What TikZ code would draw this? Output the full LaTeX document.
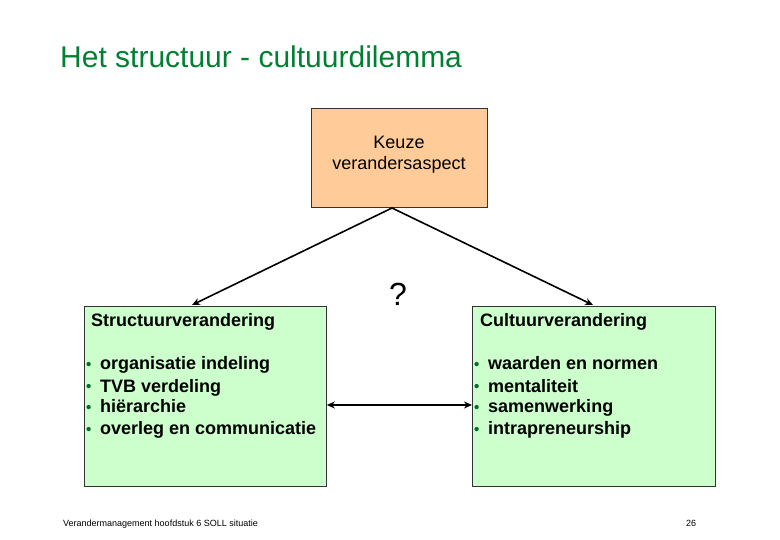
\documentclass[tikz,border=0pt]{standalone}
\usepackage{fontspec}
\setmainfont{Liberation Sans}
\usetikzlibrary{arrows.meta}
\definecolor{titlegreen}{RGB}{0,128,50}
\definecolor{peach}{RGB}{255,204,153}
\definecolor{lightgreen}{RGB}{204,255,204}
\definecolor{bulgreen}{RGB}{0,110,40}
\newcommand{\bul}{\makebox[14pt][l]{\textcolor{bulgreen}{\raisebox{0.5pt}{\fontsize{15}{15}\selectfont •}}}}
\begin{document}
\begin{tikzpicture}[x=1pt,y=-1pt,
  box/.style={draw=black!80,line width=0.8pt},
  bodytxt/.style={anchor=base west,inner sep=0pt,font=\fontsize{18}{21}\selectfont\bfseries},
  conn/.style={line width=1.6pt,-{Stealth[length=8pt,width=7pt]}},
  foot/.style={anchor=base west,inner sep=0pt,font=\fontsize{9}{10}\selectfont}]
\useasboundingbox (0,0) rectangle (780,540);
\fill[white] (0,0) rectangle (780,540);
% title
\node[anchor=base west,inner sep=0pt,text=titlegreen,font=\fontsize{30}{34}\selectfont] (title) at (60,68) {Het structuur - cultuurdilemma};
% boxes
\node[box,fill=peach,minimum width=176pt,minimum height=99pt,anchor=north west,inner sep=0pt] (top) at (311,108) {};
\node[inner sep=0pt,align=center,font=\fontsize{18}{21}\selectfont] (toptxt) at (399,155) {Keuze\\verandersaspect};
\node[box,fill=lightgreen,minimum width=242pt,minimum height=180pt,anchor=north west,inner sep=0pt] (left) at (84,306) {};
\node[box,fill=lightgreen,minimum width=243pt,minimum height=180pt,anchor=north west,inner sep=0pt] (right) at (472,306) {};
% left text
\node[bodytxt] (lh) at (91,327) {Structuurverandering};
\node[bodytxt] (l1) at (86,370) {\bul organisatie indeling};
\node[bodytxt] (l2) at (86,392) {\bul TVB verdeling};
\node[bodytxt] (l3) at (86,413) {\bul hiërarchie};
\node[bodytxt] (l4) at (86,435) {\bul overleg en communicatie};
% right text
\node[bodytxt] (rh) at (480,327) {Cultuurverandering};
\node[bodytxt] (r1) at (474,370) {\bul waarden en normen};
\node[bodytxt] (r2) at (474,392) {\bul mentaliteit};
\node[bodytxt] (r3) at (474,413) {\bul samenwerking};
\node[bodytxt] (r4) at (474,435) {\bul intrapreneurship};
% question mark
\node[inner sep=0pt,font=\fontsize{32}{36}\selectfont] (q) at (398,294) {?};
% connectors
\coordinate (apex) at (392,208);
\coordinate (lend) at (192,305);
\coordinate (rend) at (593,305);
\draw[conn] (apex) -- (lend);
\draw[conn] (apex) -- (rend);
\draw[line width=1.6pt,{Stealth[length=8pt,width=7pt]}-{Stealth[length=8pt,width=7pt]}] (left.east |- 0,405) -- (right.west |- 0,405);
% footer
\node[foot] (ft) at (63,526) {Verandermanagement hoofdstuk 6 SOLL situatie};
\node[foot] (pg) at (686,526) {26};
\end{tikzpicture}
\end{document}
